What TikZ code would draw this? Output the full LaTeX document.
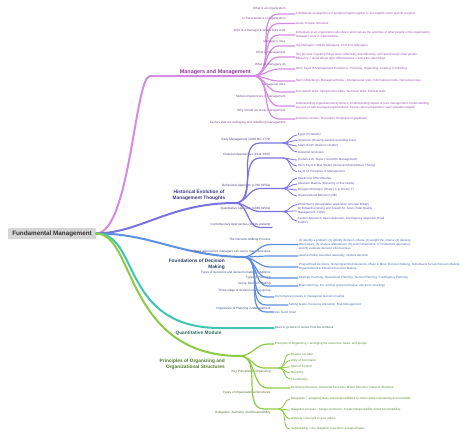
\documentclass[tikz,border=0pt]{standalone}
\usepackage{fontspec}
\setmainfont{Liberation Sans}
\definecolor{cA}{HTML}{D58BE3}\definecolor{tA}{HTML}{8E3A9E}\definecolor{lA}{HTML}{7E4A8E}\definecolor{fA}{HTML}{9A4DB0}
\definecolor{cB}{HTML}{7B72E0}\definecolor{tB}{HTML}{3A3585}\definecolor{lB}{HTML}{4A4580}\definecolor{fB}{HTML}{5A54A8}
\definecolor{cC}{HTML}{5F90E0}\definecolor{tC}{HTML}{2C3E6E}\definecolor{lC}{HTML}{3D4F78}\definecolor{fC}{HTML}{4A6AA8}
\definecolor{cD}{HTML}{3EC6B2}\definecolor{tD}{HTML}{2E6B62}\definecolor{fD}{HTML}{3F6E68}
\definecolor{cE}{HTML}{8DCB45}\definecolor{tE}{HTML}{4E7A28}\definecolor{lE}{HTML}{4E6B30}\definecolor{fE}{HTML}{5C8A32}
\definecolor{rootfill}{HTML}{D6D6D6}\definecolor{roottext}{HTML}{333333}
\tikzset{
  leaf/.style={font=\fontsize{3}{3.8}\selectfont, text=#1, inner sep=0.6pt, anchor=west, align=left},
  lab/.style={font=\fontsize{3.1}{3.8}\selectfont, text=#1, inner sep=0.3pt, anchor=east},
  ttl/.style={font=\bfseries\fontsize{4.8}{5.6}\selectfont, text=#1, inner sep=0pt},
  mainbr/.style={draw=#1, line width=2pt, line cap=round},
  subbr/.style={draw=#1, line width=1.2pt, line cap=round},
  fanbr/.style={draw=#1, line width=0.8pt, line cap=round},
}
\begin{document}
\begin{tikzpicture}[x=1pt,y=-1pt]
\useasboundingbox[fill=white] (0,0) rectangle (474,440);
% root
\node[fill=rootfill, rounded corners=1pt, minimum width=88pt, minimum height=11pt, inner sep=0pt,
  font=\bfseries\fontsize{6.3}{7}\selectfont, text=roottext] (root) at (52,233.5) {Fundamental Management};

% ---------- Branch A: Managers and Management
\coordinate (h1) at (253,76);
\draw[mainbr=cA] (root.east) .. controls (130,233) and (135,76) .. (150,76) -- (h1);
\node[ttl=tA, anchor=east, font=\bfseries\fontsize{5.4}{6}\selectfont] (tA) at (251,72) {Managers and Management};
\foreach \i/\yl/\yf/\lab/\leaf in {
 1/9/14/{What is an organization}/{A deliberate arrangement of people brought together to accomplish some specific purpose},
 2/19/23.5/{3 characteristics of organization}/{Goals, People, Structure},
 3/30.5/35/{Who is a manager \& where they work}/{Individuals in an organization who direct and oversee the activities of other people in the organization.\\managers work in organizations},
 4/42/46/{Manager's roles}/{Top Managers, Middle Managers, First-Line Managers},
 5/53/57/{What is management}/{The process of getting things done, effectively and efficiently, with and through other people\\Efficiency = doing things right; Effectiveness = doing the right things},
 6/65/69/{What do managers do}/{Henri Fayol (4 Management Functions) - Planning, Organizing, Leading, Controlling},
 7/85/81/{Managerial roles}/{Henry Mintzberg's Managerial Roles - Interpersonal roles, Informational roles, Decisional roles},
 8/97/92/{Skills/competencies of management}/{Conceptual skills, Interpersonal skills, Technical skills, Political skills},
 9/111/106/{Why should we study management}/{Understanding organizational dynamics; Understanding impact of poor management; Understanding\\success of well-managed organizations; Future career preparation; Gain valuable insights},
 10/123/119/{Factors that are reshaping and redefining management}/{Customer service, Innovation, Employee engagement}}{
  \node[lab=lA] (a\i) at (286,\yl) {\lab};
  \node[leaf=fA] (f\i) at (295,\yf) {\leaf};
  \draw[subbr=cA] (h1) to[out=0,in=180] ([xshift=-16pt]f\i.west) -- (f\i.west);
}

% ---------- Branch B: Historical Evolution
\coordinate (h2) at (235,203);
\draw[mainbr=cB] (root.east) .. controls (140,233) and (170,203) .. (h2);
\node[ttl=tB, align=center] (tB) at (199,195) {Historical Evolution of\\Management Thoughts};
\coordinate (s1) at (283,143);
\coordinate (s2) at (283,158);
\coordinate (s3) at (283,188.5);
\coordinate (s4) at (283,211.5);
\coordinate (s5) at (272,227.5);
\node[lab=lB] (b1) at (271,140) {Early Management (3000 BC-1776)};
\node[lab=lB] (b2) at (271,155) {Classical Approaches (1911-1947)};
\node[lab=lB] (b3) at (271,186) {Behavioral Approach (1700-1950s)};
\node[lab=lB] (b4) at (271,209) {Quantitative Approach (1940-1950s)};
\node[lab=lB] (b5) at (271,225) {Contemporary Approaches (1960s-present)};
\foreach \s in {s1,s2,s3,s4}{
  \draw[subbr=cB] (h2) to[out=0,in=180] ([xshift=-23pt]\s) -- (\s);
}
\draw[subbr=cB] (h2) to[out=0,in=180] ([xshift=-12pt]s5) -- (s5);
\foreach \i/\s/\y/\t in {
 1/s1/135/{Egypt (Pyramids)},
 2/s1/140.5/{Venetians (Floating warship assembly lines)},
 3/s1/146/{Adam Smith (Division of labor)},
 4/s1/152/{Industrial revolution},
 5/s2/160/{Frederick W. Taylor ( Scientific Management)},
 6/s2/166/{Henri Fayol \& Max Weber (General Administrative Theory)},
 7/s2/171.5/{Fayol 14 Principles of Management},
 8/s3/178/{Hawthorne Effect/Studies},
 9/s3/184/{Abraham Maslow (Hierarchy of five needs)},
 10/s3/190/{Douglas McGregor (Theory X \& Theory Y)},
 11/s3/196/{Organizational Behavior (OB)},
 12/s4/204.5/{World War II (Quantitative application at Great Britain)},
 13/s4/211/{W. Edwards Deming and Joseph M. Juran (Total Quality\\Management -TQM)},
 14/s4/221/{System Approach, Open Approach, Contingency Approach (Fred\\Fiedler)}}{
  \node[leaf=fB] (g\i) at (297,\y) {\t};
  \draw[fanbr=cB] (\s) to[out=0,in=180] (g\i.west);
}

% ---------- Branch C: Foundations of Decision Making
\coordinate (h3) at (243,257);
\draw[mainbr=cC] (root.east) .. controls (150,233) and (180,256) .. (h3);
\node[ttl=tC, align=right, anchor=east] (tC) at (225,264) {Foundations of Decision\\Making};
\node[lab=lC] (c1) at (271,240) {The Decision-Making Process};
\node[lab=lC] (c2) at (271,252) {Three approaches managers can use to make decisions};
\node[lab=lC] (c3) at (271,272.5) {Types of decisions and decision-making conditions};
\node[lab=lC] (c4) at (271,277.5) {Types of Planning};
\node[lab=lC] (c5) at (271,284) {Group Decision Making};
\node[lab=lC] (c6) at (271,291) {Three stage of decision-making group};
\node[lab=lC] (c7) at (271,309) {Importance of Planning in Management};
\foreach \i/\x/\y/\d/\t in {
 1/298/244.5/28/{(1) identify a problem; (2) identify decision criteria; (3) weight the criteria; (4) develop\\alternatives; (5) analyze alternatives; (6) select alternative; (7) implement alternative\\and (8) evaluate decision effectiveness},
 2/298/256/28/{rational model, bounded rationality, intuitive decision},
 3/298/267/28/{Programmed decisions, Nonprogrammed decisions, Major \& Minor Decision Making, Individual \& Group Decision Making,\\Organizational \& Personal Decision Making},
 4/298/278/30/{Strategic Planning, Operational Planning, Tactical Planning, Contingency Planning},
 5/298/286/30/{Brain storming, the nominal group technique, electronic meetings},
 6/274/297/8/{Contemporary issues in managerial decision making},
 7/288/305/22/{Setting Goals, Resource Allocation, Risk Management},
 8/274/312/8/{Use Gantt Chart}}{
  \node[leaf=fC] (k\i) at (\x,\y) {\t};
  \draw[subbr=cC] (h3) to[out=0,in=180] ([xshift=-\d pt]k\i.west) -- (k\i.west);
}

% ---------- Branch D: Quantitative Module
\node[leaf=fD] (q1) at (274,328) {Need to go back to review from the textbook};
\draw[mainbr=cD] (root.east) .. controls (140,233) and (120,328) .. (220,328) -- (q1.west);
\node[ttl=tD] (tD) at (198.5,333) {Quantitative Module};

% ---------- Branch E: Principles of Organizing
\coordinate (h5) at (240,356);
\draw[mainbr=cE] (root.east) .. controls (135,233) and (125,356) .. (h5);
\node[ttl=tE, align=right, anchor=east] (tE) at (225,364) {Principles of Organizing and\\Organizational Structures};
\coordinate (s6) at (279,368);
\coordinate (s7) at (279,409);
\node[leaf=fE] (m0) at (274,344) {Principles of Organizing = arranging the resources, tasks, and people};
\node[leaf=fE] (m6) at (290,388) {Functional Structure, Divisional Structure, Matrix Structure, Network Structure};
\node[lab=lE] (e1) at (271,372) {Key Principles of Organizing};
\node[lab=lE] (e2) at (271,393) {Types of Organizational Structures};
\node[lab=lE] (e3) at (271,412.5) {Delegation, Authority, and Responsibility};
\draw[subbr=cE] (h5) to[out=0,in=180] ([xshift=-6pt]m0.west) -- (m0.west);
\draw[subbr=cE] (h5) to[out=0,in=180] ([xshift=-15pt]s6) -- (s6);
\draw[subbr=cE] (h5) to[out=0,in=180] ([xshift=-22pt]m6.west) -- (m6.west);
\draw[subbr=cE] (h5) to[out=0,in=180] ([xshift=-15pt]s7) -- (s7);
\foreach \i/\s/\y/\t in {
 1/s6/354/{Division of Labor},
 2/s6/360.5/{Unity of Command},
 3/s6/367/{Span of Control},
 4/s6/373/{Hierarchy},
 5/s6/379/{Coordination},
 7/s7/399/{Delegation = assigning tasks and responsibilities to others while maintaining accountability},
 8/s7/410/{delegation process : Assign, Authorize, Create Responsibility, Grant Accountability},
 9/s7/419/{authority = the right to give orders},
 10/s7/429/{responsibility = the obligation to perform assigned tasks}}{
  \node[leaf=fE] (m\i) at (290,\y) {\t};
  \draw[fanbr=cE] (\s) to[out=0,in=180] (m\i.west);
}
\end{tikzpicture}
\end{document}
